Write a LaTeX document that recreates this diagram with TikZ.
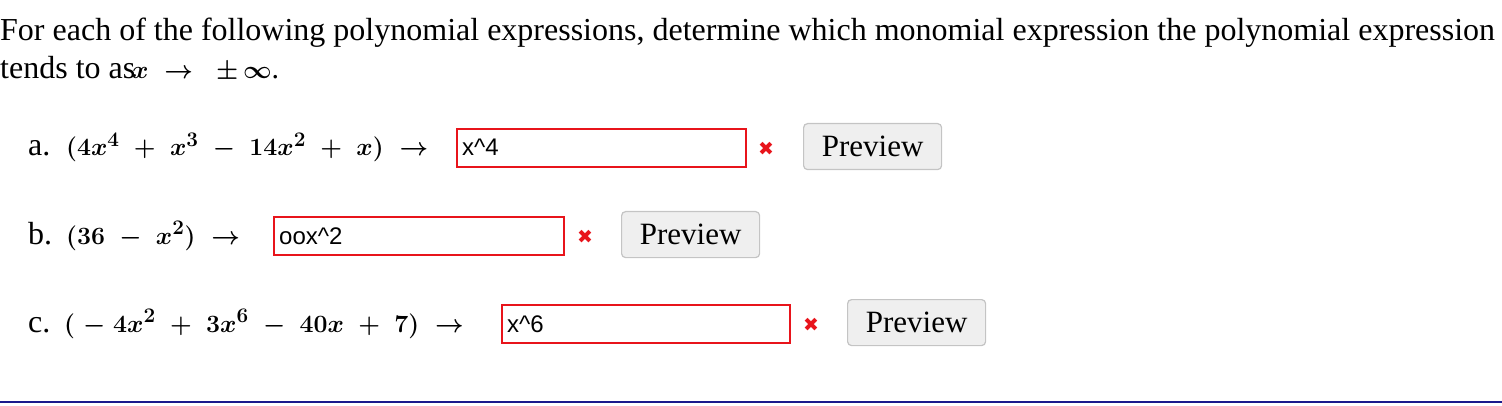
\documentclass[tikz,border=0pt]{standalone}
\usepackage{fontspec}
\setmainfont{Liberation Serif}
\newfontfamily\arialf{Liberation Sans}
\newfontfamily\dejavu{DejaVu Sans}
\definecolor{boxred}{HTML}{E8141B}
\definecolor{btnfill}{HTML}{EFEFEF}
\definecolor{btnline}{HTML}{C4C4C4}
\definecolor{navy}{HTML}{1A1A8C}
\newcommand{\pl}{\mathbin{\;+\;}}
\newcommand{\mi}{\mathbin{\;-\;}}
\tikzset{
  txt/.style={anchor=base west,inner sep=0,font=\fontsize{32}{36}\selectfont},
  mtxt/.style={anchor=base west,inner sep=0,font=\boldmath\fontsize{30}{36}\selectfont},
  ansbox/.style={draw=boxred,line width=1.6pt,anchor=north west,inner sep=0,minimum height=38pt},
  anstxt/.style={anchor=base west,inner sep=0,font=\arialf\fontsize{24}{26}\selectfont},
  xmark/.style={text=boxred,inner sep=0,font=\dejavu\fontsize{19}{20}\selectfont},
  btn/.style={draw=btnline,fill=btnfill,rounded corners=4pt,line width=1.2pt,anchor=north west,minimum width=138pt,minimum height=46pt,inner sep=0,font=\fontsize{31}{34}\selectfont}
}
\begin{document}
\begin{tikzpicture}[x=1pt,y=-1pt]
\useasboundingbox (0,0) rectangle (1502,406);
\node[txt] (l1) at (0,41) {For each of the following polynomial expressions, determine which monomial expression the polynomial expression};
\node[txt] (l2) at (0,79) {tends to as};
\node[mtxt] (l2m) at (132,79) {$x\;\to\ \ \pm\,\infty$.};
% a
\node[txt] (qa) at (28,156) {a.};
\node[mtxt] (ma) at (66,156) {$\Bigl(4x^4\pl x^3\mi 14x^2\pl x\Bigr)\;\to$};
\node[ansbox,minimum width=289pt] (ba) at (456,128) {};
\node[anstxt] (ta) at (462,156) {x\^{}4};
\node[xmark] (xa) at (766,149) {✖};
\node[btn] (pa) at (803,123) {Preview};
% b
\node[txt] (qb) at (28,244) {b.};
\node[mtxt] (mb) at (66,244) {$\Bigl(36\mi x^2\Bigr)\;\to$};
\node[ansbox,minimum width=290pt] (bb) at (273,216) {};
\node[anstxt] (tb) at (279,244) {oox\^{}2};
\node[xmark] (xb) at (585,237) {✖};
\node[btn] (pb) at (621,211) {Preview};
% c
\node[txt] (qc) at (28,332) {c.};
\node[mtxt] (mc) at (64,332) {$\Bigl(\mi 4x^2\pl 3x^6\mi 40x\pl 7\Bigr)\;\to$};
\node[ansbox,minimum width=288pt] (bc) at (501,304) {};
\node[anstxt] (tc) at (507,332) {x\^{}6};
\node[xmark] (xc) at (811,325) {✖};
\node[btn] (pc) at (847,299) {Preview};
\draw[navy,line width=2pt] (0,402) -- (1502,402);
\end{tikzpicture}
\end{document}
